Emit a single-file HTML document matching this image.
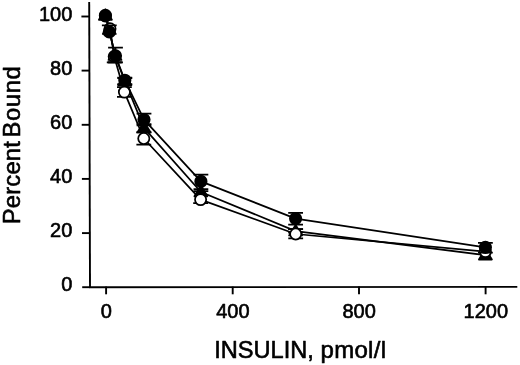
<!DOCTYPE html>
<html><head><meta charset="utf-8"><title>Insulin binding</title>
<style>html,body{margin:0;padding:0;background:#fff}svg{display:block}</style></head>
<body>
<svg width="520" height="365" viewBox="0 0 520 365">
<rect width="520" height="365" fill="#fff"/>
<g stroke="#000" stroke-width="1.75" fill="none" stroke-linecap="butt" stroke-linejoin="round">
<path d="M89.2 2.1L90.0 288.0" stroke-width="1.9"/>
<path d="M89.2 287.2L517.3 286.9" stroke-width="1.9"/>
<path d="M82.2 287.2H89.8" stroke-width="1.9"/>
<path d="M82.0 233.1H89.8" stroke-width="1.9"/>
<path d="M81.9 178.9H89.8" stroke-width="1.9"/>
<path d="M81.7 124.8H89.8" stroke-width="1.9"/>
<path d="M81.6 70.6H89.8" stroke-width="1.9"/>
<path d="M81.4 16.5H89.8" stroke-width="1.9"/>
<path d="M106.1 286.6V294.3" stroke-width="1.9"/>
<path d="M232.7 286.6V294.3" stroke-width="1.9"/>
<path d="M359.0 286.6V294.3" stroke-width="1.9"/>
<path d="M485.6 286.6V294.3" stroke-width="1.9"/>
<polyline points="105.4,15.5 109.3,29.6 115.0,55.6 124.8,81.0 144.0,127.9 200.9,192.0 295.6,231.1 485.4,255.2"/>
<path d="M115.0 62.3V55.6M107.6 62.3H122.4"/>
<path d="M124.8 78.0V81.0M117.4 78.0H132.2M124.8 84.3V81.0M117.4 84.3H132.2"/>
<path d="M144.0 124.0V127.9M136.6 124.0H151.4M144.0 132.3V127.9M136.6 132.3H151.4"/>
<path d="M200.9 191.0V192.0M193.5 191.0H208.3"/>
<path d="M295.6 229.0V231.1M288.2 229.0H303.0M295.6 232.5V231.1M288.2 232.5H303.0"/>
<path d="M105.4 9.3L111.9 19.8H98.9Z" fill="#000"/>
<path d="M109.3 23.4L115.8 33.9H102.8Z" fill="#000"/>
<path d="M115.0 49.4L121.5 59.9H108.5Z" fill="#000"/>
<path d="M124.8 74.8L131.3 85.3H118.3Z" fill="#000"/>
<path d="M144.0 121.7L150.5 132.2H137.5Z" fill="#000"/>
<path d="M200.9 185.8L207.4 196.3H194.4Z" fill="#000"/>
<path d="M295.6 224.9L302.1 235.4H289.1Z" fill="#000"/>
<path d="M485.4 249.0L491.9 259.5H478.9Z" fill="#000"/>
<polyline points="105.4,16.0 110.0,28.8 114.2,56.5 124.4,92.1 143.8,138.5 200.6,199.6 295.7,234.0 485.4,251.6"/>
<path d="M114.2 62.3V56.5M106.8 62.3H121.6"/>
<path d="M124.4 87.2V92.1M117.0 87.2H131.8M124.4 96.9V92.1M117.0 96.9H131.8"/>
<path d="M143.8 132.4V138.5M136.4 132.4H151.2M143.8 144.6V138.5M136.4 144.6H151.2"/>
<path d="M200.6 203.2V199.6M193.2 203.2H208.0"/>
<path d="M295.7 229.0V234.0M288.3 229.0H303.1M295.7 238.4V234.0M288.3 238.4H303.1"/>
<circle cx="105.4" cy="16.0" r="5.6" fill="#fff"/>
<circle cx="110.0" cy="28.8" r="5.6" fill="#fff"/>
<circle cx="114.2" cy="56.5" r="5.6" fill="#fff"/>
<circle cx="124.4" cy="92.1" r="5.6" fill="#fff"/>
<circle cx="143.8" cy="138.5" r="5.6" fill="#fff"/>
<circle cx="200.6" cy="199.6" r="5.6" fill="#fff"/>
<circle cx="295.7" cy="234.0" r="5.6" fill="#fff"/>
<circle cx="485.4" cy="251.6" r="5.6" fill="#fff"/>
<polyline points="105.4,15.4 109.3,31.9 115.5,55.8 124.8,80.2 144.0,119.6 200.9,181.4 295.6,218.6 485.4,247.3"/>
<path d="M109.3 25.4V31.9M101.9 25.4H116.7"/>
<path d="M115.5 47.7V55.8M108.1 47.7H122.9M115.5 62.3V55.8M108.1 62.3H122.9"/>
<path d="M124.8 77.7V80.2M117.4 77.7H132.2M124.8 84.3V80.2M117.4 84.3H132.2"/>
<path d="M144.0 113.7V119.6M136.6 113.7H151.4M144.0 125.3V119.6M136.6 125.3H151.4"/>
<path d="M200.9 174.5V181.4M193.5 174.5H208.3M200.9 189.0V181.4M193.5 189.0H208.3"/>
<path d="M295.6 212.9V218.6M288.2 212.9H303.0M295.6 224.7V218.6M288.2 224.7H303.0"/>
<path d="M485.4 242.9V247.3M478.0 242.9H492.8M485.4 252.5V247.3M478.0 252.5H492.8"/>
<circle cx="105.4" cy="15.4" r="5.7" fill="#000"/>
<circle cx="109.3" cy="31.9" r="5.7" fill="#000"/>
<circle cx="115.5" cy="55.8" r="5.7" fill="#000"/>
<circle cx="124.8" cy="80.2" r="5.7" fill="#000"/>
<circle cx="144.0" cy="119.6" r="5.7" fill="#000"/>
<circle cx="200.9" cy="181.4" r="5.7" fill="#000"/>
<circle cx="295.6" cy="218.6" r="5.7" fill="#000"/>
<circle cx="485.4" cy="247.3" r="5.7" fill="#000"/>
</g>
<g font-family="'Liberation Sans', Arial, Helvetica, sans-serif" fill="#000" stroke="#000" stroke-width="0.6" stroke-linejoin="round">
<text x="72.3" y="291.3" font-size="20" text-anchor="end">0</text>
<text x="72.3" y="237.2" font-size="20" text-anchor="end">20</text>
<text x="72.3" y="183.0" font-size="20" text-anchor="end">40</text>
<text x="72.3" y="128.9" font-size="20" text-anchor="end">60</text>
<text x="72.3" y="74.7" font-size="20" text-anchor="end">80</text>
<text x="72.3" y="20.6" font-size="20" text-anchor="end">100</text>
<text x="106.3" y="317.9" font-size="20" text-anchor="middle">0</text>
<text x="232.9" y="317.9" font-size="20" text-anchor="middle">400</text>
<text x="359.2" y="317.9" font-size="20" text-anchor="middle">800</text>
<text x="485.8" y="317.9" font-size="20" text-anchor="middle">1200</text>
<text y="358.1" font-size="23.6"><tspan x="214.2">INSULIN, </tspan><tspan x="320.5" font-size="24" letter-spacing="0.3">pmol/l</tspan></text>
<text transform="translate(19.8 0) rotate(-90)" font-size="23.8"><tspan x="-224.3" letter-spacing="0.2">Percent </tspan><tspan x="-137.6" letter-spacing="0.65">Bound</tspan></text>
</g>
</svg>
</body></html>
